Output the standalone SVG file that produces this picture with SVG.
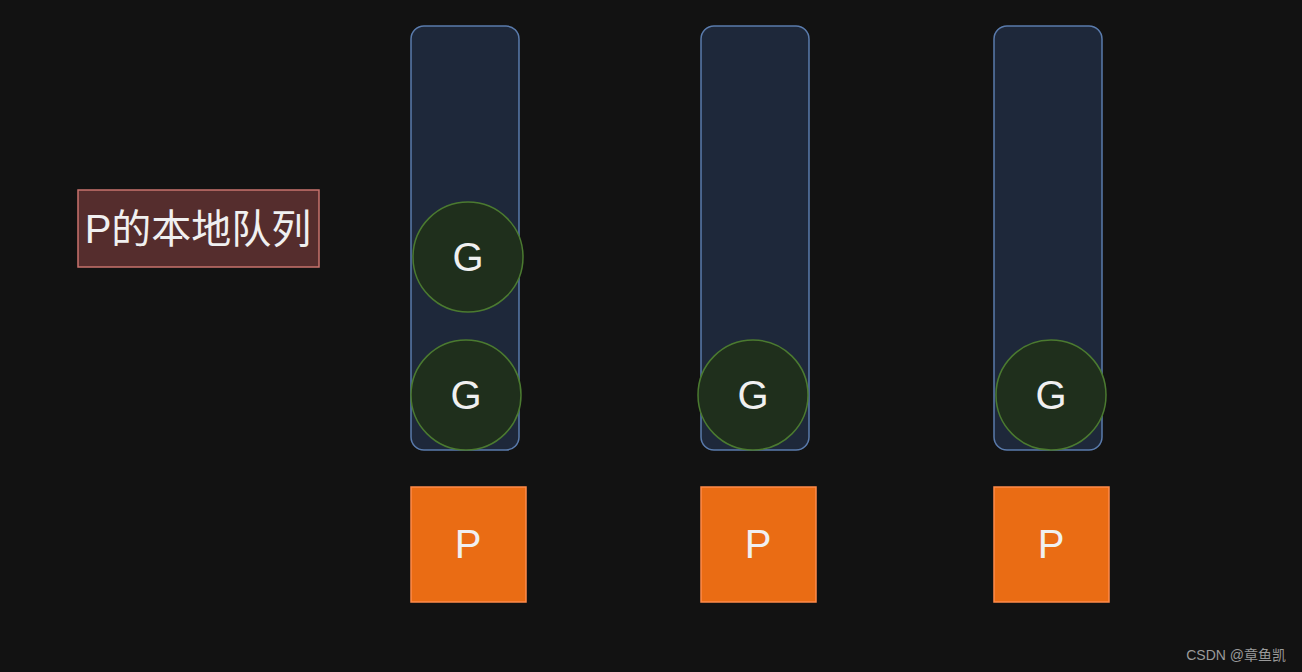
<svg xmlns="http://www.w3.org/2000/svg" width="1302" height="672" viewBox="0 0 1302 672">
<style>
.q{fill:#1e283a;stroke:#5a7bac;stroke-width:1.5}
.g{fill:#1f2f1c;stroke:#4b7a30;stroke-width:1.5}
.p{fill:#ea6c14;stroke:#ff8a4a;stroke-width:1.5}
.t{font-family:"Liberation Sans","Noto Sans CJK SC",sans-serif;fill:#f0f0f0;text-anchor:middle;dominant-baseline:central}
</style>
<rect width="1302" height="672" fill="#121212"/>
<g id="label">
<rect x="78" y="190" width="241" height="77" fill="#552d2d" stroke="#c9736d" stroke-width="1.5"/>
<text class="t" x="198" y="229" font-size="40">P的本地队列</text>
</g>
<g id="queue1"><rect class="q" x="411" y="26" width="108" height="424" rx="13"/></g>
<g id="queue2"><rect class="q" x="701" y="26" width="108" height="424" rx="13"/></g>
<g id="queue3"><rect class="q" x="994" y="26" width="108" height="424" rx="13"/></g>
<g id="g1a"><circle class="g" cx="468" cy="257" r="55"/><text class="t" x="468" y="257" font-size="40">G</text></g>
<g id="g1b"><circle class="g" cx="466" cy="395" r="55"/><text class="t" x="466" y="395" font-size="40">G</text></g>
<g id="g2"><circle class="g" cx="753" cy="395" r="55"/><text class="t" x="753" y="395" font-size="40">G</text></g>
<g id="g3"><circle class="g" cx="1051" cy="395" r="55"/><text class="t" x="1051" y="395" font-size="40">G</text></g>
<g id="p1"><rect class="p" x="411" y="487" width="115" height="115"/><text class="t" x="468" y="544" font-size="40">P</text></g>
<g id="p2"><rect class="p" x="701" y="487" width="115" height="115"/><text class="t" x="758" y="544" font-size="40">P</text></g>
<g id="p3"><rect class="p" x="994" y="487" width="115" height="115"/><text class="t" x="1051" y="544" font-size="40">P</text></g>
<g id="connectors"></g>
<text x="1286" y="660" font-family="Liberation Sans,Noto Sans CJK SC,sans-serif" font-size="14" fill="#9a9a9a" text-anchor="end">CSDN @章鱼凯</text>
</svg>
